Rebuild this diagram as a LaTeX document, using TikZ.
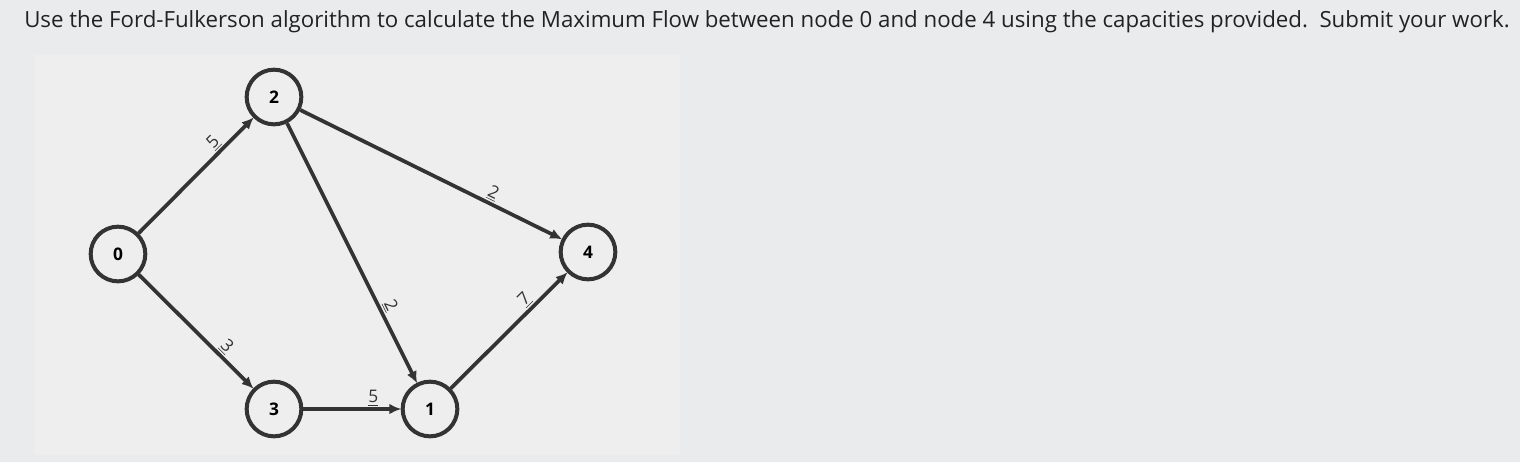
\documentclass[tikz,border=0pt]{standalone}
\usepackage{fontspec}
\setmainfont{Open Sans}
\usepackage{graphicx}
\usetikzlibrary{arrows.meta}
\definecolor{bg}{HTML}{E9EBEC}
\definecolor{panel}{HTML}{EEEEEE}
\definecolor{ink}{HTML}{333333}
\definecolor{txt}{HTML}{222222}
\begin{document}
\begin{tikzpicture}[x=0.75pt,y=-0.75pt,
  vtx/.style={circle,draw=ink,line width=3pt,fill=panel,minimum size=41pt,inner sep=0pt,font=\fontsize{13}{15}\selectfont\bfseries},
  edge/.style={draw=ink,line width=2.8pt,-{Latex[length=9pt,width=8pt]},shorten >=-0.5pt},
  capl/.style={sloped,anchor=south,inner sep=1pt,text=ink,font=\fontsize{13}{14}\selectfont}]
\fill[bg] (0,0) rectangle (1520,462);
\useasboundingbox (0,0) rectangle (1520,462);
\fill[panel] (35,55) rectangle (680,455);
\node[anchor=west,inner sep=0pt,text=txt] (title) at (24,22) {\resizebox{1114pt}{!}{\fontsize{15}{18}\selectfont Use the Ford-Fulkerson algorithm to calculate the Maximum Flow between node 0 and node 4 using the capacities provided.\ \ Submit your work.}};
\node[vtx] (n0) at (118,254) {0};
\node[vtx] (n2) at (274,97) {2};
\node[vtx] (n4) at (588,252) {4};
\node[vtx] (n3) at (274,409) {3};
\node[vtx] (n1) at (430,409) {1};
\draw[edge] (n0) -- node[capl,pos=0.72]{\underline{5}} (n2);
\draw[edge] (n2) -- node[capl,pos=0.72]{\underline{2}} (n4);
\draw[edge] (n2) -- node[capl,pos=0.72]{\underline{2}} (n1);
\draw[edge] (n0) -- node[capl,pos=0.70]{\underline{3}} (n3);
\draw[edge] (n3) -- node[capl,pos=0.72]{\underline{5}} (n1);
\draw[edge] (n1) -- node[capl,pos=0.70]{\underline{7}} (n4);
\end{tikzpicture}
\end{document}
